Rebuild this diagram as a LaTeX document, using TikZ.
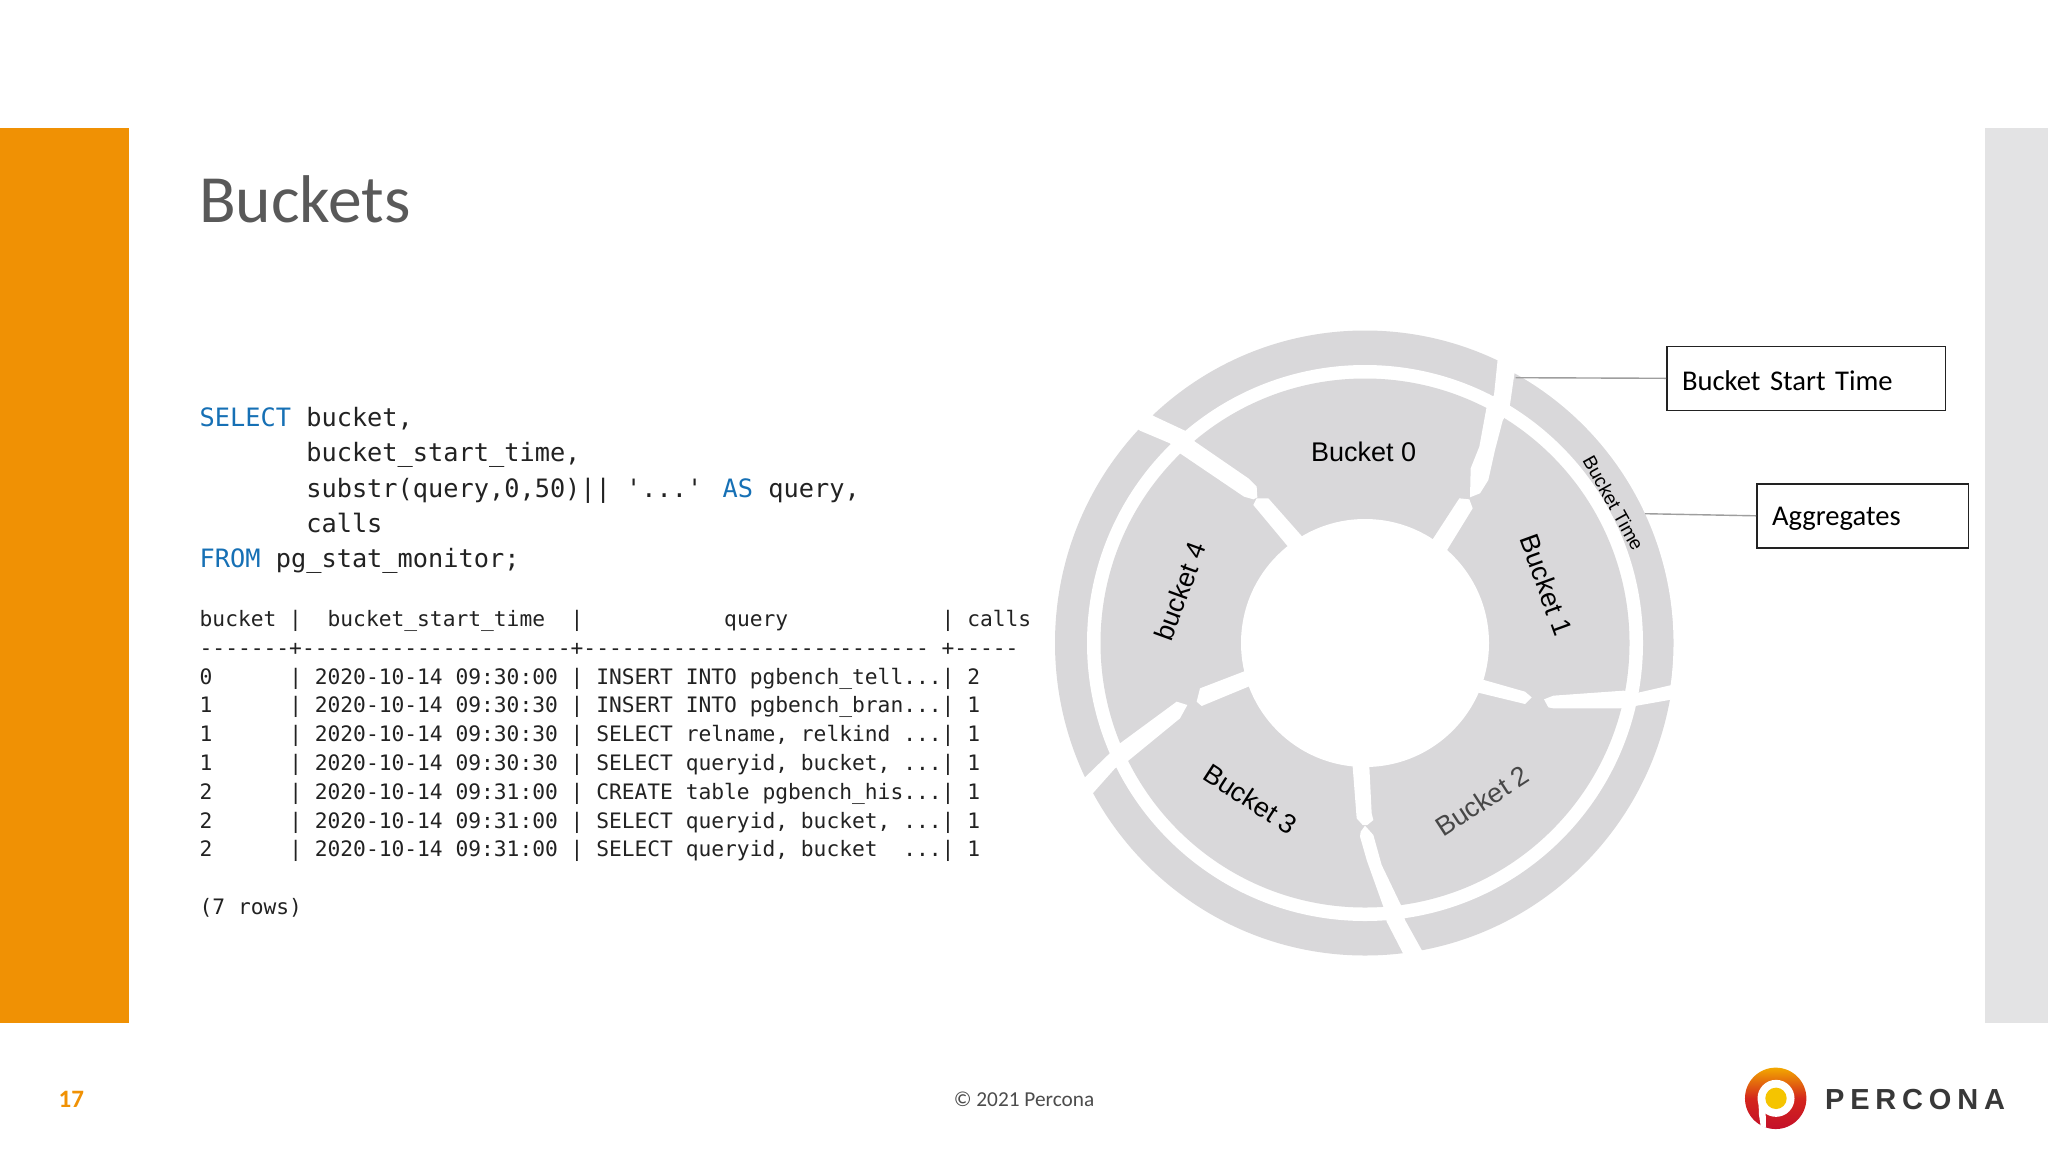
\documentclass[tikz,border=0pt]{standalone}
\usepackage{fontspec}
\setmainfont{Carlito}
\newfontfamily\monof{DejaVu Sans Mono}
\newfontfamily\ringf{Liberation Sans}
\newfontfamily\logof[LetterSpace=20]{Liberation Sans}
\newcommand{\fs}[1]{\fontsize{#1}{#1}\selectfont}
\definecolor{ringgray}{HTML}{D9D8DA}
\definecolor{barorange}{HTML}{F09104}
\definecolor{sidegray}{HTML}{E3E3E4}
\definecolor{kwblue}{HTML}{1670B5}
\definecolor{codeink}{HTML}{222222}
\definecolor{logotop}{HTML}{F2A800}
\definecolor{logomid}{HTML}{D4261C}
\definecolor{logobot}{HTML}{C4102A}
\definecolor{logodot}{HTML}{F5C400}
\tikzset{
  sqlline/.style={anchor=base west,inner sep=0pt,text=codeink,font=\monof\fs{25.3}},
  tabline/.style={anchor=base west,inner sep=0pt,text=codeink,font=\monof\fs{21.25}},
  ringlabel/.style={anchor=center,inner sep=0pt,text=black,font=\ringf\fs{27}},
  callout/.style={draw=codeink,line width=1.6pt,anchor=north west,align=left,inner xsep=15pt,inner ysep=0pt,text=black,font=\fs{28.6}},
  leader/.style={draw=black!38,line width=1.4pt},
  gap/.style={fill=white,draw=none},
  gridA/.style={shift={(1420,340)},x=0.33333pt,y=-0.33333pt},
  gridB/.style={shift={(1120,410)},x=0.33333pt,y=-0.33333pt},
  gridC/.style={shift={(1080,660)},x=0.33333pt,y=-0.33333pt},
  gridD/.style={shift={(1340,760)},x=0.33333pt,y=-0.33333pt},
  gridE/.style={shift={(1470,670)},x=0.33333pt,y=-0.33333pt},
  gridF/.style={shift={(1700,1040)},x=0.33333pt,y=-0.33333pt},
}
\newcommand{\kw}[1]{\textcolor{kwblue}{#1}}
\begin{document}
\begin{tikzpicture}[x=1pt,y=-1pt]
\useasboundingbox (0,0) rectangle (2048,1152);
\fill[white] (0,0) rectangle (2048,1152);
\fill[barorange] (0,127.5) rectangle (128.5,1023);
\fill[sidegray] (1985,127.5) rectangle (2048,1023);
\node[anchor=base west,inner sep=0pt,text=black!65,font=\fs{67.5}] (title) at (199,222.5) {Buckets};

% SQL
\node[sqlline] (q1) at (199.5,426.5) {\kw{SELECT} bucket,};
\node[sqlline] (q2) at (199.5,461.75) {~~~~~~~bucket\_start\_time,};
\node[sqlline] (q3) at (199.5,497) {~~~~~~~substr(query,0,50)|| '...' \kw{AS} query,};
\node[sqlline] (q4) at (199.5,532.25) {~~~~~~~calls};
\node[sqlline] (q5) at (199.5,567.5) {\kw{FROM} pg\_stat\_monitor;};
% table
\node[tabline] (t0) at (199.5,626) {bucket~|~~bucket\_start\_time~~|~~~~~~~~~~~query~~~~~~~~~~~~|~calls};
\node[tabline] (t1) at (199.5,655) {-------+---------------------+---------------------------~+-----};
\node[tabline] (r1) at (199.5,684) {0~~~~~~|~2020-10-14~09:30:00~|~INSERT~INTO~pgbench\_tell...|~2};
\node[tabline] (r2) at (199.5,712.8) {1~~~~~~|~2020-10-14~09:30:30~|~INSERT~INTO~pgbench\_bran...|~1};
\node[tabline] (r3) at (199.5,741.6) {1~~~~~~|~2020-10-14~09:30:30~|~SELECT~relname,~relkind~...|~1};
\node[tabline] (r4) at (199.5,770.4) {1~~~~~~|~2020-10-14~09:30:30~|~SELECT~queryid,~bucket,~...|~1};
\node[tabline] (r5) at (199.5,799.2) {2~~~~~~|~2020-10-14~09:31:00~|~CREATE~table~pgbench\_his...|~1};
\node[tabline] (r6) at (199.5,828) {2~~~~~~|~2020-10-14~09:31:00~|~SELECT~queryid,~bucket,~...|~1};
\node[tabline] (r7) at (199.5,856.8) {2~~~~~~|~2020-10-14~09:31:00~|~SELECT~queryid,~bucket~~...|~1};
\node[tabline] (rows) at (199.5,914.4) {(7~rows)};

% ring
\coordinate (c) at (1365,643);
\fill[ringgray] (c) ellipse[x radius=310pt,y radius=312.5pt];
\fill[white] (c) circle[radius=278pt];
\fill[ringgray] (c) circle[radius=264.5pt];
\fill[white] (c) circle[radius=124pt];
\draw[white,line width=8pt] ([shift={(-9:312.5pt)}]c) arc[start angle=-9,end angle=62,radius=312.5pt];

\begin{scope}[gridA]
  \fill[gap] (236,30) -- (233,58) -- (222,165) -- (200,200) -- (178,320) -- (152,385) -- (150,472) -- (180,460) -- (205,420) -- (225,330) -- (248,242) -- (268,207) -- (283,103) -- (292,60) -- cycle;
  \fill[gap] (118,475) -- (148,478) -- (158,505) -- (80,632) -- (60,660) -- (20,625) -- (40,595) -- cycle;
\end{scope}
\begin{scope}[gridB]
  \fill[gap] (70,0) -- (105,20) -- (195,62) -- (225,95) -- (385,205) -- (410,230) -- (412,262) -- (400,268) -- (372,260) -- (180,130) -- (150,100) -- (60,62) -- (20,35) -- cycle;
  \fill[gap] (410,265) -- (445,265) -- (545,378) -- (570,410) -- (530,440) -- (500,405) -- (400,285) -- cycle;
\end{scope}
\begin{scope}[gridC]
  \fill[gap] (-15,380) -- (15,352) -- (120,250) -- (290,125) -- (322,135) -- (300,175) -- (145,302) -- (105,325) -- (40,398) -- (15,430) -- cycle;
  \fill[gap] (360,85) -- (490,35) -- (530,20) -- (545,65) -- (505,80) -- (365,138) -- (350,125) -- cycle;
\end{scope}
\begin{scope}[gridD]
  \fill[gap] (36,-15) -- (38,20) -- (50,175) -- (68,195) -- (82,195) -- (100,180) -- (95,160) -- (88,20) -- (86,-15) -- cycle;
  \fill[gap] (75,197) -- (100,225) -- (125,315) -- (185,440) -- (195,480) -- (245,570) -- (260,600) -- (200,610) -- (188,578) -- (140,485) -- (130,440) -- (80,300) -- (60,230) -- (62,215) -- cycle;
\end{scope}
\begin{scope}[gridE]
  \fill[gap] (10,20) -- (42,30) -- (165,65) -- (185,82) -- (165,102) -- (25,68) -- (0,60) -- cycle;
  \fill[gap] (222,88) -- (250,77) -- (460,62) -- (505,68) -- (605,45) -- (640,35) -- (630,85) -- (597,90) -- (495,108) -- (450,115) -- (250,115) -- (235,112) -- cycle;
\end{scope}

\node[ringlabel] (b0) at (1363.6,451.7) {Bucket 0};
\node[ringlabel,rotate=-70] (b1) at (1546.3,585) {Bucket 1};
\node[ringlabel,rotate=33,text=black!72] (b2) at (1482,801) {Bucket 2};
\node[ringlabel,rotate=-33] (b3) at (1250.4,799) {Bucket 3};
\node[ringlabel,rotate=70] (b4) at (1180,591.5) {bucket 4};
\node[ringlabel,rotate=-61,font=\ringf\fs{19}] (bt) at (1613.5,503) {Bucket Time};

% callouts
\node[callout,minimum width=278.5pt,minimum height=64pt,text width=248pt,text height=24pt,text depth=0pt] (box1) at (1666,345.5) {Bucket Start Time};
\node[callout,minimum width=211.5pt,minimum height=64pt,text width=181pt,text height=20pt,text depth=0pt] (box2) at (1756,483) {Aggregates};
\coordinate (p1) at (1515.7,377.7);
\coordinate (p2) at (1645,513.7);
\draw[leader] (p1) -- (box1.west);
\draw[leader] (p2) -- (box2.west);

% footer
\node[anchor=base west,inner sep=0pt,text=barorange,font=\bfseries\fs{25}] (page) at (58.5,1107.5) {17};
\node[anchor=base,inner sep=0pt,text=black!70,font=\fs{21.3}] (copy) at (1024,1106) {© 2021 Percona};

% logo
\begin{scope}[gridF]
  \shade[top color=logotop,bottom color=logobot,middle color=logomid] (227,175) circle[radius=30.7pt];
  \fill[white] (228,175) circle[radius=18.5pt];
  \fill[white] (175,175) -- (177,225) -- (182,258) -- (198,263) -- (196,175) -- cycle;
  \fill[logodot] (228,175) circle[radius=10.7pt];
\end{scope}
\node[anchor=base west,inner sep=0pt,text=black!78,font=\logof\bfseries\fs{29}] (logo) at (1825,1109) {PERCONA};
\end{tikzpicture}
\end{document}
